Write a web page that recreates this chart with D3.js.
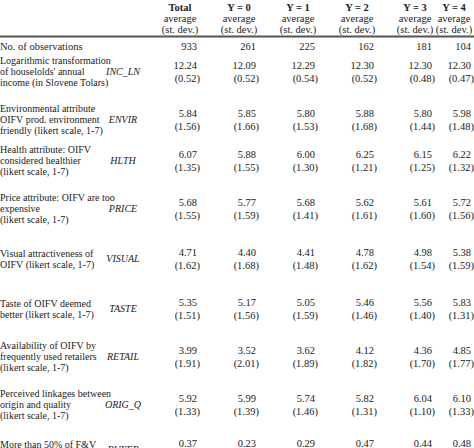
<!DOCTYPE html>
<html><head><meta charset="utf-8">
<script src="https://cdn.jsdelivr.net/npm/d3@7"></script>
<style>body{margin:0;background:#fff}text{font-family:"Liberation Serif","DejaVu Serif",serif;fill:#222}</style>
</head><body><svg id="tbl" width="474" height="448"></svg>
<script>
var groups = ["Total", "Y = 0", "Y = 1", "Y = 2", "Y = 3", "Y = 4"];
var observations = [933, 261, 225, 162, 181, 104];
var codes = ["INC_LN", "ENVIR", "HLTH", "PRICE", "VISUAL", "TASTE", "RETAIL", "ORIG_Q", "BUYER"];
var labels = [
	["Logarithmic transformation", "of houselolds' annual", "income (in Slovene Tolars)"],
	["Environmental attribute", "OIFV prod. environment", "friendly (likert scale, 1-7)"],
	["Health attribute: OIFV", "considered healthier", "(likert scale, 1-7)"],
	["Price attribute: OIFV are too", "expensive", "(likert scale, 1-7)"],
	["Visual attractiveness of", "OIFV (likert scale, 1-7)"],
	["Taste of OIFV deemed", "better (likert scale, 1-7)"],
	["Availability of OIFV by", "frequently used retailers", "(likert scale, 1-7)"],
	["Perceived linkages between", "origin and quality", "(likert scale, 1-7)"],
	["More than 50% of F&V", "purchased (0=N; 1=Y)"]
];
var means = [
	[12.24, 12.09, 12.29, 12.30, 12.30, 12.30],
	[5.84, 5.85, 5.80, 5.88, 5.80, 5.98],
	[6.07, 5.88, 6.00, 6.25, 6.15, 6.22],
	[5.68, 5.77, 5.68, 5.62, 5.61, 5.72],
	[4.71, 4.40, 4.41, 4.78, 4.98, 5.38],
	[5.35, 5.17, 5.05, 5.46, 5.56, 5.83],
	[3.99, 3.52, 3.62, 4.12, 4.36, 4.85],
	[5.92, 5.99, 5.74, 5.82, 6.04, 6.10],
	[0.37, 0.23, 0.29, 0.47, 0.44, 0.48]
];
var sds = [
	[0.52, 0.52, 0.54, 0.52, 0.48, 0.47],
	[1.56, 1.66, 1.53, 1.68, 1.44, 1.48],
	[1.35, 1.55, 1.30, 1.21, 1.25, 1.32],
	[1.55, 1.59, 1.41, 1.61, 1.60, 1.56],
	[1.62, 1.68, 1.48, 1.62, 1.54, 1.59],
	[1.51, 1.56, 1.59, 1.46, 1.40, 1.31],
	[1.91, 2.01, 1.89, 1.82, 1.70, 1.77],
	[1.33, 1.39, 1.46, 1.31, 1.10, 1.33],
	[0.48, 0.42, 0.45, 0.50, 0.50, 0.50]
];

var svg = d3.select("#tbl");
var fs = 10.5;

// right edges of value columns (last one runs into the page edge)
var x = d3.scaleOrdinal().domain(groups).range([197, 256, 315, 374, 432, 471]);
var y = d3.scaleOrdinal().domain(codes).range([71, 119, 160, 208, 258, 308, 356, 404, 449]);

var head = svg.append("g");
groups.forEach(function (g) {
	var cx = x(g) - 17;
	head.append("text").attr("x", cx).attr("y", 11).attr("text-anchor", "middle")
		.style("font-weight", "bold").style("font-size", fs + "px").text(g);
	head.append("text").attr("x", cx).attr("y", 22).attr("text-anchor", "middle")
		.style("font-size", fs + "px").text("average");
	head.append("text").attr("x", cx).attr("y", 33).attr("text-anchor", "middle")
		.style("font-size", fs + "px").text("(st. dev.)");
});
svg.append("line").attr("x1", 0).attr("x2", 474).attr("y1", 36.5).attr("y2", 36.5)
	.style("stroke", "#555").style("stroke-width", 2);

svg.append("text").attr("x", 0).attr("y", 50).style("font-size", fs + "px").text("No. of observations");
groups.forEach(function (g, i) {
	svg.append("text").attr("x", x(g)).attr("y", 50).attr("text-anchor", "end")
		.style("font-size", fs + "px").text(observations[i]);
});

codes.forEach(function (c, r) {
	var cy = y(c);
	var lab = labels[r];
	var top = cy - (lab.length - 1) * 11 / 2;
	lab.forEach(function (l, k) {
		svg.append("text").attr("x", 0).attr("y", top + k * 11 + 4)
			.style("font-size", "10px").text(l);
	});
	svg.append("text").attr("x", 123).attr("y", cy + 4).attr("text-anchor", "middle")
		.style("font-style", "italic").style("font-size", "10px").text(c);
	groups.forEach(function (g, i) {
		svg.append("text").attr("x", x(g)).attr("y", cy - 2).attr("text-anchor", "end")
			.style("font-size", fs + "px").text(means[r][i].toFixed(2));
		svg.append("text").attr("x", x(g) + 3).attr("y", cy + 11).attr("text-anchor", "end")
			.style("font-size", fs + "px").text("(" + sds[r][i].toFixed(2) + ")");
	});
});
</script></body></html>
